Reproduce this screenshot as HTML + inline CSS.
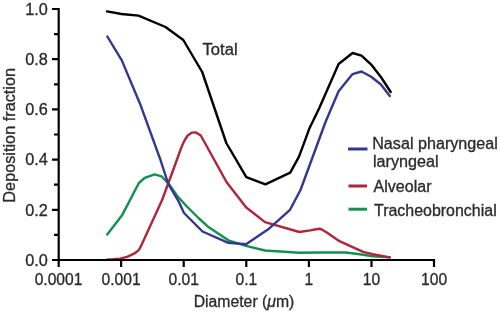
<!DOCTYPE html>
<html><head><meta charset="utf-8"><style>
html,body{margin:0;padding:0;background:#fff;}
svg{display:block;}
text{font-family:"Liberation Sans",Arial,sans-serif;font-size:15.6px;fill:#2a2a2e;stroke:#2a2a2e;stroke-width:0.3px;}
</style></head><body>
<svg width="500" height="312" viewBox="0 0 500 312">
<polyline points="107.2,234.4 121.9,215.6 138.9,183.0 144.7,177.9 154.8,174.4 162.0,176.7 169.2,184.5 177.3,196.0 186.9,206.5 198.5,218.0 208.0,226.7 228.3,240.3 246.0,245.8 265.0,250.5 299.4,252.7 320.0,252.5 345.6,252.5 360.0,254.2 372.8,256.3 389.8,257.4" fill="none" stroke="#139050" stroke-width="2.4" stroke-linejoin="round" stroke-linecap="round"/>
<polyline points="107.0,259.6 113.0,259.3 120.0,258.7 127.0,256.9 134.1,253.7 139.0,249.9 141.5,245.0 162.1,200.0 173.2,170.0 181.5,147.0 184.5,140.5 187.7,135.5 192.0,132.6 196.0,132.4 200.8,135.5 226.5,182.0 246.0,207.3 265.0,222.1 299.4,232.0 310.2,230.4 316.0,229.2 319.6,228.7 323.0,230.2 326.4,232.2 338.4,240.6 350.4,246.2 363.2,251.8 372.8,254.2 389.8,257.4" fill="none" stroke="#b0243c" stroke-width="2.4" stroke-linejoin="round" stroke-linecap="round"/>
<polyline points="107.3,36.5 121.8,60.4 140.0,103.7 160.5,160.0 168.3,184.0 178.3,200.8 184.0,213.0 202.5,231.5 228.3,242.8 246.0,244.2 269.0,228.7 290.0,209.8 300.5,190.0 325.5,122.0 338.6,91.3 352.6,74.1 361.5,71.5 371.2,76.7 380.9,84.5 389.8,96.0" fill="none" stroke="#34378c" stroke-width="2.4" stroke-linejoin="round" stroke-linecap="round"/>
<polyline points="107.0,11.4 121.5,14.0 138.5,15.6 165.5,27.0 183.3,40.0 202.2,72.0 226.3,143.0 246.3,177.2 265.4,184.3 290.2,172.7 298.9,156.8 304.2,142.6 309.4,128.4 319.2,108.2 338.6,64.0 352.6,53.0 361.5,55.6 371.2,64.6 380.9,77.0 390.7,92.0" fill="none" stroke="#000" stroke-width="2.4" stroke-linejoin="round" stroke-linecap="round"/>
<path d="M52,9 H58.7 V267 M52,260 H434 V267 M54,234.9 H58.7 M52,209.8 H58.7 M54,184.7 H58.7 M52,159.6 H58.7 M54,134.5 H58.7 M52,109.4 H58.7 M54,84.3 H58.7 M52,59.2 H58.7 M54,34.1 H58.7 M121.1,260 V267 M183.7,260 V267 M246.3,260 V267 M308.9,260 V267 M371.5,260 V267" fill="none" stroke="#000" stroke-width="2.2" stroke-linejoin="miter"/>
<line x1="348" y1="149" x2="367.5" y2="149" stroke="#34378c" stroke-width="3"/>
<line x1="348.5" y1="186" x2="367" y2="186" stroke="#b0243c" stroke-width="3"/>
<line x1="348.5" y1="209.2" x2="367" y2="209.2" stroke="#139050" stroke-width="3"/>
<text x="47.8" y="265.7" text-anchor="end" textLength="22.6" lengthAdjust="spacingAndGlyphs">0.0</text>
<text x="47.8" y="215.5" text-anchor="end" textLength="22.6" lengthAdjust="spacingAndGlyphs">0.2</text>
<text x="47.8" y="165.3" text-anchor="end" textLength="22.6" lengthAdjust="spacingAndGlyphs">0.4</text>
<text x="47.8" y="115.1" text-anchor="end" textLength="22.6" lengthAdjust="spacingAndGlyphs">0.6</text>
<text x="47.8" y="64.9" text-anchor="end" textLength="22.6" lengthAdjust="spacingAndGlyphs">0.8</text>
<text x="47.8" y="14.7" text-anchor="end" textLength="22.6" lengthAdjust="spacingAndGlyphs">1.0</text>
<text x="58.5" y="284.5" text-anchor="middle">0.0001</text>
<text x="121.1" y="284.5" text-anchor="middle">0.001</text>
<text x="183.7" y="284.5" text-anchor="middle">0.01</text>
<text x="246.3" y="284.5" text-anchor="middle">0.1</text>
<text x="308.9" y="284.5" text-anchor="middle">1</text>
<text x="371.5" y="284.5" text-anchor="middle">10</text>
<text x="434.1" y="284.5" text-anchor="middle">100</text>
<text x="244" y="306.6" text-anchor="middle" textLength="100.7" lengthAdjust="spacingAndGlyphs">Diameter (<tspan font-style="italic">μ</tspan>m)</text>
<text transform="translate(14.5,135.3) rotate(-90)" text-anchor="middle" textLength="134.7" lengthAdjust="spacingAndGlyphs">Deposition fraction</text>
<text x="202.5" y="54.6" textLength="35.1" lengthAdjust="spacingAndGlyphs">Total</text>
<text x="372.2" y="148.6" textLength="125.7" lengthAdjust="spacingAndGlyphs">Nasal pharyngeal</text>
<text x="373" y="166.5" textLength="65.7" lengthAdjust="spacingAndGlyphs">laryngeal</text>
<text x="373.5" y="192.1" textLength="58" lengthAdjust="spacingAndGlyphs">Alveolar</text>
<text x="374" y="215.6" textLength="122.7" lengthAdjust="spacingAndGlyphs">Tracheobronchial</text>
</svg>
</body></html>
